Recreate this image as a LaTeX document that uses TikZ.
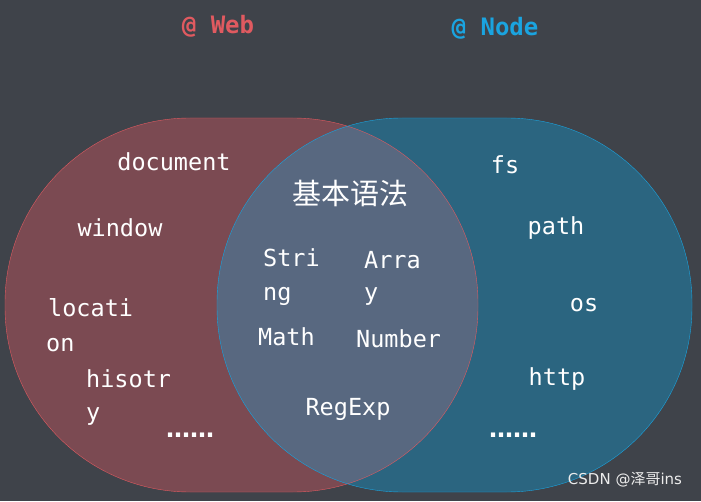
\documentclass[tikz,border=0pt]{standalone}
\usepackage{fontspec}
\setmonofont{DejaVu Sans Mono}
\newfontfamily\cjk{Noto Sans CJK SC}
\newfontfamily\dsans{DejaVu Sans}
\definecolor{bg}{HTML}{3F434A}
\definecolor{lfill}{HTML}{7B4A52}
\definecolor{lline}{HTML}{E05A60}
\definecolor{rfill}{HTML}{2B6580}
\definecolor{rline}{HTML}{1AA4E0}
\definecolor{mfill}{HTML}{586880}
\begin{document}
\begin{tikzpicture}[x=1pt,y=1pt,
  lbl/.style={text=white,font=\ttfamily\fontsize{23.5}{26}\selectfont,inner sep=0pt},
  lw/.style={lbl,anchor=west}]
\fill[bg] (0,0) rectangle (701,501);
\useasboundingbox (0,0) rectangle (701,501);
\path[fill=lfill,rounded corners=185pt] (5,9) rectangle (478,383);
\path[fill=rfill,rounded corners=185pt] (217,9) rectangle (692,383);
\begin{scope}
\clip[rounded corners=185pt] (5,9) rectangle (478,383);
\path[fill=mfill,rounded corners=185pt] (217,9) rectangle (692,383);
\end{scope}
\draw[lline,rounded corners=185pt] (5,9) rectangle (478,383);
\draw[rline,rounded corners=185pt] (217,9) rectangle (692,383);
\node[lbl,text=lline,font=\ttfamily\bfseries\fontsize{24}{26}\selectfont] (web) at (218,475) {@ Web};
\node[lbl,text=rline,font=\ttfamily\bfseries\fontsize{24}{26}\selectfont] (node) at (495,473) {@ Node};
\node[lbl] (doc) at (174,339) {document};
\node[lbl] (win) at (120,273) {window};
\node[lw] (loc1) at (48,193) {locati};
\node[lw] (loc2) at (46,156) {on};
\node[lw] (his1) at (86,122) {hisotr};
\node[lw] (his2) at (86,84) {y};
\node[lbl,font=\dsans\bfseries\fontsize{24}{26}\selectfont] (dl) at (190,66) {……};
\node[lbl,font=\cjk\fontsize{29}{32}\selectfont] (jb) at (350,308) {基本语法};
\node[lw] (s1) at (263,243) {Stri};
\node[lw] (s2) at (263,205) {ng};
\node[lw] (a1) at (364,241) {Arra};
\node[lw] (a2) at (364,204) {y};
\node[lw] (math) at (258,164) {Math};
\node[lw] (num) at (356,162) {Number};
\node[lbl] (re) at (348,92) {RegExp};
\node[lbl] (fs) at (505,336) {fs};
\node[lbl] (path) at (556,273) {path};
\node[lbl] (os) at (584,196) {os};
\node[lbl] (http) at (557,122) {http};
\node[lbl,font=\dsans\bfseries\fontsize{24}{26}\selectfont] (dr) at (513,66) {……};
\node[text=white!85!gray,font=\dsans\fontsize{15}{17}\selectfont,inner sep=0pt] (csdn) at (625,21) {CSDN @\cjk 泽哥\dsans ins};
\end{tikzpicture}
\end{document}
